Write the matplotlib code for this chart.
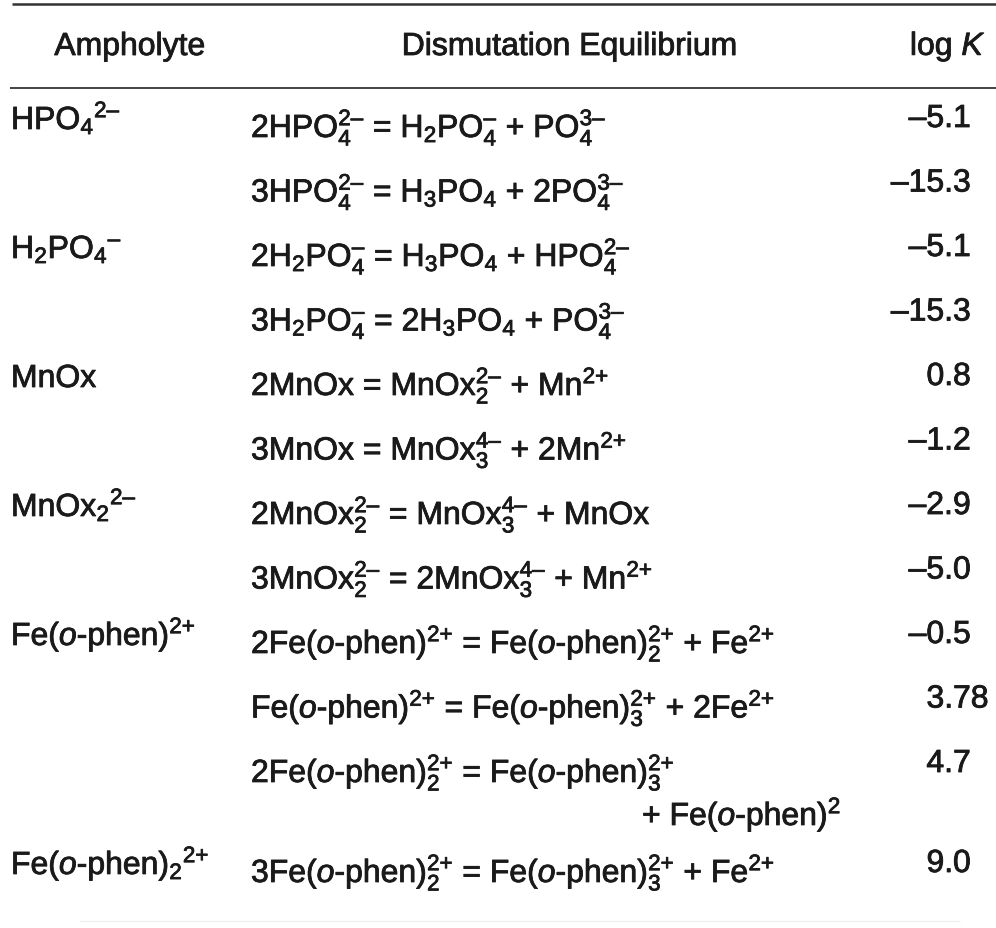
import matplotlib
matplotlib.use('Agg')
import matplotlib.pyplot as plt
import matplotlib.patheffects as pe

plt.rcParams['font.family'] = ['Liberation Sans', 'DejaVu Sans']
plt.rcParams['mathtext.fontset'] = 'custom'
plt.rcParams['mathtext.rm'] = 'Liberation Sans'
plt.rcParams['mathtext.it'] = 'Liberation Sans:italic'
plt.rcParams['mathtext.bf'] = 'Liberation Sans:bold'

# table content ("–" and "{+}" keep mathtext from adding operator spacing in charges)
headers = ['Ampholyte', 'Dismutation Equilibrium', 'log $K$']

ampholyte_rows = [0, 2, 4, 6, 8, 11]
ampholytes = [
    'HPO$_4$$^{2–}$',
    'H$_2$PO$_4$$^{–}$',
    'MnOx',
    'MnOx$_2$$^{2–}$',
    'Fe($o$-phen)$^{2{+}}$',
    'Fe($o$-phen)$_2$$^{2{+}}$',
]

equations = [
    '2HPO$_4^{2–}$ = H$_2$PO$_4^{–}$ + PO$_4^{3–}$',
    '3HPO$_4^{2–}$ = H$_3$PO$_4$ + 2PO$_4^{3–}$',
    '2H$_2$PO$_4^{–}$ = H$_3$PO$_4$ + HPO$_4^{2–}$',
    '3H$_2$PO$_4^{–}$ = 2H$_3$PO$_4$ + PO$_4^{3–}$',
    '2MnOx = MnOx$_2^{2–}$ + Mn$^{2{+}}$',
    '3MnOx = MnOx$_3^{4–}$ + 2Mn$^{2{+}}$',
    '2MnOx$_2^{2–}$ = MnOx$_3^{4–}$ + MnOx',
    '3MnOx$_2^{2–}$ = 2MnOx$_3^{4–}$ + Mn$^{2{+}}$',
    '2Fe($o$-phen)$^{2{+}}$ = Fe($o$-phen)$_2^{2{+}}$ + Fe$^{2{+}}$',
    'Fe($o$-phen)$^{2{+}}$ = Fe($o$-phen)$_3^{2{+}}$ + 2Fe$^{2{+}}$',
    '2Fe($o$-phen)$_2^{2{+}}$ = Fe($o$-phen)$_3^{2{+}}$',
    '3Fe($o$-phen)$_2^{2{+}}$ = Fe($o$-phen)$_3^{2{+}}$ + Fe$^{2{+}}$',
]
continuation_row = 10
continuation = '+ Fe($o$-phen)$^{2}$'

log_k = ['–5.1', '–15.3', '–5.1', '–15.3', '0.8', '–1.2',
         '–2.9', '–5.0', '–0.5', '3.78', '4.7', '9.0']

# layout (pixel coordinates)
W, H = 996, 929
fig = plt.figure(figsize=(W / 100, H / 100), dpi=100)
ax = fig.add_axes([0, 0, 1, 1])
ax.set_xlim(0, W)
ax.set_ylim(H, 0)
ax.axis('off')

ink = '#1a1a1a'
fs = 23
heavy = [pe.withStroke(linewidth=0.6, foreground=ink)]
style = dict(va='baseline', fontsize=fs, color=ink, path_effects=heavy)

first_base, row_step, cont_gap, extra = 138, 64.5, 43, 35.5


def row_y(i):
    y = first_base + row_step * i
    if i > continuation_row:
        y += extra
    return y


ax.hlines(5, 12, W, color='#333333', lw=1.8)
ax.hlines(89, 10, W, color='#444444', lw=1.4)
ax.hlines(922, 80, 960, color='#f0f0f0', lw=1.0)

ax.text(130, 56, headers[0], ha='center', **style)
ax.text(570, 56, headers[1], ha='center', **style)
ax.text(986, 56, headers[2], ha='right', **style)

for r, name in zip(ampholyte_rows, ampholytes):
    ax.text(11, row_y(r) - 8, name, ha='left', **style)

for i, eq in enumerate(equations):
    ax.text(251, row_y(i), eq, ha='left', **style)

ax.text(642, row_y(continuation_row) + cont_gap, continuation, ha='left', **style)

# values aligned on the decimal point
dec_x = 953
for i, v in enumerate(log_k):
    whole, frac = v.split('.')
    y = row_y(i) - 10
    ax.text(dec_x, y, whole + '.', ha='right', **style)
    ax.text(dec_x, y, frac, ha='left', **style)

fig.savefig('out.png', dpi=100, facecolor='white')
